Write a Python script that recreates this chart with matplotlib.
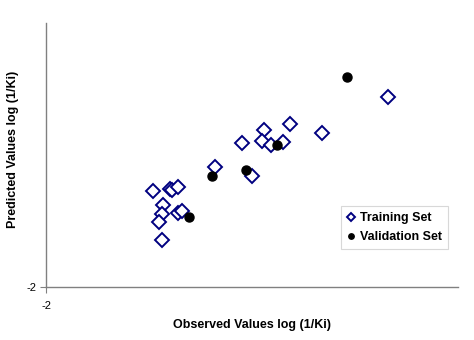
import matplotlib
matplotlib.use("Agg")
import matplotlib.pyplot as plt

plt.rcParams.update({
    "font.family": ["Liberation Sans", "DejaVu Sans"],
    "axes.unicode_minus": False,
})

# observed vs predicted log(1/Ki)
train_obs = [1.11, 1.61, 1.65, 1.84, 1.41, 1.38, 1.28, 1.38, 1.84, 1.96,
             2.92, 4.00, 3.71, 4.35, 4.29, 4.55, 4.89, 5.11, 6.03, 7.95]
train_pred = [2.36, 2.44, 2.41, 2.56, 1.71, 1.30, 0.94, 0.15, 1.35, 1.47,
              3.47, 3.06, 4.56, 5.14, 4.62, 4.45, 4.60, 5.42, 5.01, 6.62]
val_obs = [2.16, 2.83, 3.83, 4.72, 6.76]
val_pred = [1.18, 3.05, 3.33, 4.44, 7.56]

AXIS_MIN, AXIS_MAX = -2, 10

fig = plt.figure(figsize=(4.74, 3.40), dpi=100)
ax = fig.add_axes([0.098, 0.156, 0.868, 0.776])

ax.plot(train_obs, train_pred, linestyle="none", marker="D", markersize=7,
        markerfacecolor="white", markeredgecolor="#000080",
        markeredgewidth=1.4, label="Training Set")
ax.plot(val_obs, val_pred, linestyle="none", marker="o", markersize=6.5,
        color="black", label="Validation Set")

ax.set_xlim(AXIS_MIN, AXIS_MAX)
ax.set_ylim(AXIS_MIN, AXIS_MAX)
ax.set_xticks([AXIS_MIN])
ax.set_yticks([AXIS_MIN])
ax.tick_params(length=4, color="#808080", labelsize=8)
ax.tick_params(axis="x", pad=6)
ax.tick_params(axis="y", pad=3)

for side in ("top", "right"):
    ax.spines[side].set_visible(False)
for side in ("left", "bottom"):
    ax.spines[side].set_color("#808080")
    ax.spines[side].set_linewidth(1.0)

ax.set_xlabel("Observed Values log (1/Ki)", fontsize=9, fontweight="bold",
              labelpad=6)
fig.text(0.028, 0.56, "Predicted Values log (1/Ki)", rotation=90,
         ha="center", va="center", fontsize=9, fontweight="bold")

leg = ax.legend(loc="lower right", bbox_to_anchor=(0.99, 0.12),
                prop={"weight": "bold", "size": 9},
                markerscale=0.6, handlelength=0.7, handletextpad=0.4,
                fancybox=False, framealpha=1, borderpad=0.45,
                labelspacing=0.6)
leg.get_frame().set_edgecolor("#d8d8d8")
leg.get_frame().set_linewidth(0.8)

fig.savefig("out.png", dpi=100)
